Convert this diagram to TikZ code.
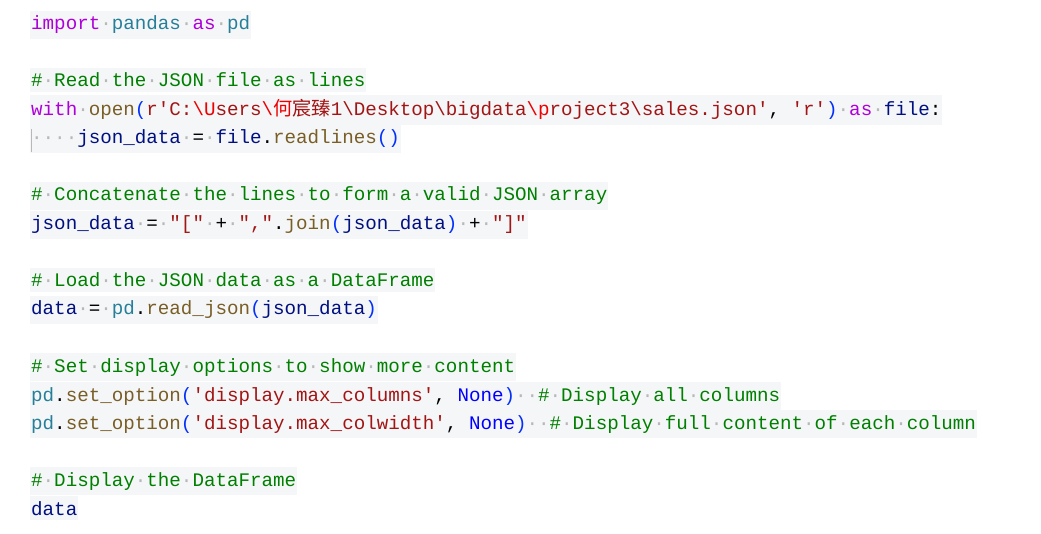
\documentclass[tikz,border=0pt]{standalone}
\usepackage{fontspec}
\setmonofont{Liberation Mono}
\newfontfamily\cjk{Noto Sans CJK SC}
\definecolor{kw}{HTML}{AF00DB}
\definecolor{fn}{HTML}{795E26}
\definecolor{st}{HTML}{A31515}
\definecolor{es}{HTML}{EE0000}
\definecolor{vr}{HTML}{001080}
\definecolor{cm}{HTML}{008000}
\definecolor{nn}{HTML}{0000FF}
\definecolor{pb}{HTML}{0431FA}
\definecolor{cl}{HTML}{267F99}
\definecolor{dt}{HTML}{B8B8B8}
\definecolor{lb}{HTML}{F5F6F8}
\newcommand\cK[1]{\textcolor{kw}{#1}}
\newcommand\cF[1]{\textcolor{fn}{#1}}
\newcommand\cS[1]{\textcolor{st}{#1}}
\newcommand\cE[1]{\textcolor{es}{#1}}
\newcommand\cV[1]{\textcolor{vr}{#1}}
\newcommand\cC[1]{\textcolor{cm}{#1}}
\newcommand\cN[1]{\textcolor{nn}{#1}}
\newcommand\cP[1]{\textcolor{pb}{#1}}
\newcommand\cL[1]{\textcolor{cl}{#1}}
\newcommand\dotsp{\textcolor{dt}{·}}
\newcommand\bs{\textbackslash}
\tikzset{codeline/.style={anchor=base west,inner xsep=1pt,inner ysep=5pt,fill=lb,font=\fontsize{19.2}{22}\ttfamily,text=black}}
\begin{document}
\begin{tikzpicture}[x=1pt,y=-1pt]
\useasboundingbox[fill=white] (0,0) rectangle (1041,534);
\node[codeline] (l1) at (30,30) {\cK{import}\dotsp\cL{pandas}\dotsp\cK{as}\dotsp\cL{pd}};
\node[codeline] (l2) at (30,87) {\cC{\#\dotsp{}Read\dotsp{}the\dotsp{}JSON\dotsp{}file\dotsp{}as\dotsp{}lines}};
\node[codeline] (l3) at (30,116) {\cK{with}\dotsp\cF{open}\cP{(}\cS{r'C:}\cE{\bs U}\cS{sers}\cE{\bs{\cjk 何}}\cS{{\cjk 宸臻}1\bs Desktop\bs bigdata}\cE{\bs p}\cS{roject3\bs sales.json'}, \cS{'r'}\cP{)}\dotsp\cK{as}\dotsp\cV{file}:};
\node[codeline] (l4) at (30,144) {\dotsp\dotsp\dotsp\dotsp\cV{json\_data}\dotsp=\dotsp\cV{file}.\cF{readlines}\cP{()}};
\draw[dt,line width=0.8pt] (31,129) -- (31,152);
\node[codeline] (l5) at (30,201) {\cC{\#\dotsp{}Concatenate\dotsp{}the\dotsp{}lines\dotsp{}to\dotsp{}form\dotsp{}a\dotsp{}valid\dotsp{}JSON\dotsp{}array}};
\node[codeline] (l6) at (30,230) {\cV{json\_data}\dotsp=\dotsp\cS{"["}\dotsp+\dotsp\cS{","}.\cF{join}\cP{(}\cV{json\_data}\cP{)}\dotsp+\dotsp\cS{"]"}};
\node[codeline] (l7) at (30,287) {\cC{\#\dotsp{}Load\dotsp{}the\dotsp{}JSON\dotsp{}data\dotsp{}as\dotsp{}a\dotsp{}DataFrame}};
\node[codeline] (l8) at (30,315) {\cV{data}\dotsp=\dotsp\cL{pd}.\cF{read\_json}\cP{(}\cV{json\_data}\cP{)}};
\node[codeline] (l9) at (30,372) {\cC{\#\dotsp{}Set\dotsp{}display\dotsp{}options\dotsp{}to\dotsp{}show\dotsp{}more\dotsp{}content}};
\node[codeline] (l10) at (30,401) {\cL{pd}.\cF{set\_option}\cP{(}\cS{'display.max\_columns'}, \cN{None}\cP{)}\dotsp\dotsp\cC{\#\dotsp{}Display\dotsp{}all\dotsp{}columns}};
\node[codeline] (l11) at (30,429) {\cL{pd}.\cF{set\_option}\cP{(}\cS{'display.max\_colwidth'}, \cN{None}\cP{)}\dotsp\dotsp\cC{\#\dotsp{}Display\dotsp{}full\dotsp{}content\dotsp{}of\dotsp{}each\dotsp{}column}};
\node[codeline] (l12) at (30,486) {\cC{\#\dotsp{}Display\dotsp{}the\dotsp{}DataFrame}};
\node[codeline] (l13) at (30,515) {\cV{data}};
\end{tikzpicture}
\end{document}
